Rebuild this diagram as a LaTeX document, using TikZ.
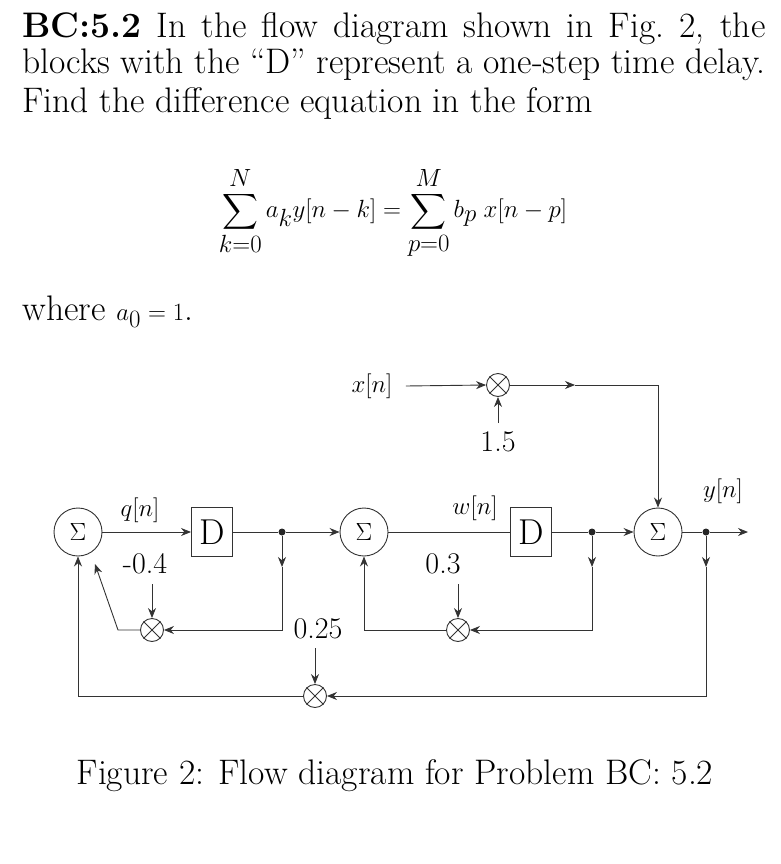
\documentclass[tikz,border=0pt]{standalone}
\usepackage{fontspec}
\usepackage{amsmath}
\usetikzlibrary{arrows.meta}
\begin{document}
\begin{tikzpicture}[x=1pt,y=-1pt,
  line width=0.9pt, draw=black!80,
  >={Stealth[length=10pt,width=8pt]},
  sumnode/.style={circle,draw,minimum size=48pt,inner sep=0pt,font=\fontsize{33}{33}\selectfont},
  mulnode/.style={circle,draw,minimum size=23pt,inner sep=0pt},
  delaynode/.style={draw,minimum width=41pt,minimum height=49pt,inner sep=0pt,font=\fontsize{36}{36}\selectfont},
  dotnode/.style={circle,fill=black!85,inner sep=0pt,minimum size=7pt},
  lbl/.style={font=\fontsize{33}{33}\selectfont,inner sep=0pt},
  num/.style={font=\fontsize{30}{30}\selectfont,inner sep=0pt},
  txt/.style={font=\fontsize{35.5}{44}\selectfont,inner sep=0pt}]
\useasboundingbox (0,0) rectangle (780,864);
% header text
\node[txt,anchor=base west] (l1) at (22,38) {\hbox to 743pt{\textbf{BC:5.2} In the flow diagram shown in Fig.~2, the}};
\node[txt,anchor=base west] (l2) at (22,74) {\hbox to 743pt{blocks with the ``D'' represent a one-step time delay.}};
\node[txt,anchor=base west] (l3) at (22,113) {Find the difference equation in the form};
\node[txt] (eq) at (393,213) {$\displaystyle\sum_{k=0}^{N} a_k y[n-k] = \sum_{p=0}^{M} b_p\; x[n-p]$};
\node[txt,anchor=base west] (l4) at (22,320) {where $a_0 = 1$.};
\node[txt] (cap) at (395,776) {Figure 2: Flow diagram for Problem BC: 5.2};
% nodes
\node[sumnode] (s1) at (78,532) {$\Sigma$};
\node[delaynode] (d1) at (212,532) {D};
\node[dotnode] (j1) at (282,532) {};
\node[sumnode] (s2) at (364,532) {$\Sigma$};
\node[delaynode] (d2) at (531,532) {D};
\node[dotnode] (j2) at (592,532) {};
\node[sumnode] (s3) at (658,532) {$\Sigma$};
\node[dotnode] (j3) at (706,532) {};
\coordinate (yout) at (748,532);
\node[mulnode] (m1) at (152,630) {};
\node[mulnode] (m2) at (458,630) {};
\node[mulnode] (m3) at (315,696) {};
\node[mulnode] (mx) at (498,385) {};
\foreach \m in {m1,m2,m3,mx} {
  \draw (\m.north east) -- (\m.south west) (\m.north west) -- (\m.south east);
}
% labels
\node[lbl] (xn) at (372,386) {$x[n]$};
\node[lbl] (qn) at (140,510) {$q[n]$};
\node[lbl] (wn) at (475,508) {$w[n]$};
\node[lbl] (yn) at (723,491) {$y[n]$};
\node[num] (k1) at (145,564) {-0.4};
\node[num] (k2) at (443,564) {0.3};
\node[num] (k3) at (318,629) {0.25};
\node[num] (k4) at (498,442) {1.5};
% gain arrows
\draw[->] (m1 |- 0,584) -- (m1.north);
\draw[->] (m2 |- 0,584) -- (m2.north);
\draw[->] (m3 |- 0,648) -- (m3.north);
\draw[->] (mx |- 0,423) -- (mx.south);
% forward path
\draw[->] (s1.east) -- (d1.west);
\draw (d1.east) -- (j1);
\draw[->] (j1) -- (s2.west);
\draw (s2.east) -- (d2.west);
\draw (d2.east) -- (j2);
\draw[->] (j2) -- (s3.west);
\draw (s3.east) -- (j3);
\draw[->] (j3) -- (yout);
% x path
\draw[->] (xn.east) ++(13,0) -- (mx.west);
\coordinate (xa) at (575,385);
\coordinate (xc) at (658,385);
\draw[->] (mx.east) -- (xa);
\draw[->] (xa) -- (xc) -- (s3.north);
% feedback 1
\coordinate (j1a) at (282,567);
\coordinate (j1b) at (282,630);
\draw[->] (j1) -- (j1a);
\draw[->] (j1a) -- (j1b) -- (m1.east);
\coordinate (f1) at (118,630);
\draw[->] (m1.west) -- (f1) -- (95,564);
% feedback 2
\coordinate (j2a) at (592,567);
\coordinate (j2b) at (592,630);
\draw[->] (j2) -- (j2a);
\draw[->] (j2a) -- (j2b) -- (m2.east);
\draw[->] (m2.west) -- (364,630) -- (s2.south);
% feedback 3
\coordinate (j3a) at (706,567);
\coordinate (j3b) at (706,696);
\draw[->] (j3) -- (j3a);
\draw[->] (j3a) -- (j3b) -- (m3.east);
\draw[->] (m3.west) -- (78,696) -- (s1.south);
\end{tikzpicture}
\end{document}
